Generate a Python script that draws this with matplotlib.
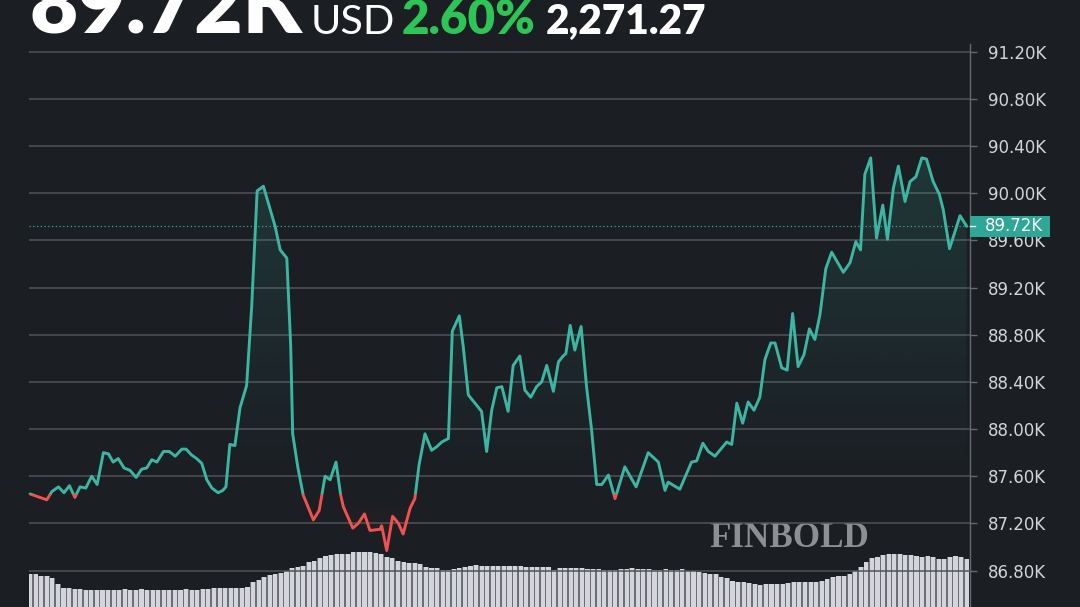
import numpy as np
import matplotlib
matplotlib.use("Agg")
import matplotlib.pyplot as plt
from matplotlib.patches import Rectangle
from matplotlib.path import Path
import matplotlib.transforms as mtransforms

# ---------------- data ----------------
# price vertices: time in hours over the 24h window, price in thousands USD
times = [0.00, 0.43, 0.56, 0.73, 0.87, 1.01, 1.15, 1.28, 1.43, 1.58,
         1.72, 1.88, 2.01, 2.13, 2.26, 2.41, 2.56, 2.72, 2.86, 2.99,
         3.12, 3.25, 3.42, 3.57, 3.72, 3.89, 4.00, 4.14, 4.27, 4.40,
         4.53, 4.66, 4.82, 4.94, 5.02, 5.12, 5.25, 5.38, 5.55, 5.68,
         5.82, 5.98, 6.13, 6.28, 6.41, 6.58, 6.68, 6.73, 6.86, 7.00,
         7.26, 7.41, 7.56, 7.69, 7.84, 7.96, 8.03, 8.27, 8.41, 8.57,
         8.71, 8.97, 9.01, 9.14, 9.29, 9.44, 9.56, 9.74, 9.86, 9.97,
         10.12, 10.29, 10.42, 10.55, 10.72, 10.82, 11.00, 11.10, 11.23, 11.57,
         11.70, 11.83, 11.96, 12.09, 12.25, 12.38, 12.55, 12.68, 12.83, 12.98,
         13.11, 13.24, 13.41, 13.54, 13.66, 13.73, 13.84, 13.96, 14.12, 14.26,
         14.39, 14.52, 14.65, 14.82, 14.99, 15.24, 15.53, 15.84, 16.10, 16.27,
         16.35, 16.65, 16.95, 17.08, 17.24, 17.38, 17.55, 17.85, 17.98, 18.11,
         18.26, 18.40, 18.55, 18.70, 18.83, 18.98, 19.09, 19.26, 19.40, 19.54,
         19.68, 19.83, 19.97, 20.11, 20.24, 20.39, 20.54, 20.84, 21.01, 21.16,
         21.28, 21.39, 21.54, 21.69, 21.85, 21.97, 22.12, 22.25, 22.42, 22.55,
         22.70, 22.85, 22.97, 23.14, 23.30, 23.40, 23.56, 23.83, 24.00]

prices = [87.45, 87.40, 87.47, 87.51, 87.46, 87.52, 87.42, 87.51, 87.50, 87.60,
          87.53, 87.80, 87.79, 87.72, 87.75, 87.67, 87.65, 87.59, 87.66, 87.67,
          87.74, 87.72, 87.81, 87.81, 87.77, 87.83, 87.83, 87.78, 87.75, 87.71,
          87.57, 87.50, 87.46, 87.48, 87.51, 87.87, 87.86, 88.18, 88.37, 89.04,
          90.02, 90.06, 89.89, 89.72, 89.52, 89.45, 88.70, 87.96, 87.68, 87.44,
          87.23, 87.31, 87.60, 87.57, 87.72, 87.44, 87.34, 87.16, 87.20, 87.28,
          87.14, 87.15, 87.18, 86.97, 87.26, 87.20, 87.11, 87.33, 87.41, 87.70,
          87.96, 87.82, 87.85, 87.89, 87.92, 88.83, 88.96, 88.70, 88.29, 88.15,
          87.81, 88.16, 88.35, 88.36, 88.15, 88.54, 88.62, 88.33, 88.27, 88.36,
          88.40, 88.54, 88.32, 88.57, 88.62, 88.64, 88.88, 88.67, 88.87, 88.36,
          87.99, 87.53, 87.53, 87.61, 87.41, 87.68, 87.51, 87.80, 87.72, 87.48,
          87.55, 87.49, 87.72, 87.73, 87.88, 87.81, 87.77, 87.89, 87.87, 88.22,
          88.05, 88.23, 88.16, 88.27, 88.59, 88.73, 88.73, 88.52, 88.50, 88.98,
          88.53, 88.63, 88.85, 88.76, 88.97, 89.36, 89.50, 89.33, 89.41, 89.59,
          89.52, 90.16, 90.30, 89.62, 89.90, 89.61, 90.04, 90.23, 89.93, 90.10,
          90.14, 90.30, 90.29, 90.10, 89.99, 89.86, 89.53, 89.81, 89.72]

# relative traded volume per interval (169 equal intervals over 24h)
volume = [32.7, 32.7, 31.3, 31.3, 28.7, 22.7, 19.3, 18.7, 17.7, 17.7,
          16.7, 16.7, 16.7, 16.7, 16.7, 16.7, 16.7, 17.7, 16.7, 16.7,
          17.7, 16.7, 16.7, 16.7, 16.7, 16.7, 16.7, 16.7, 17.7, 16.7,
          16.7, 17.7, 17.7, 18.7, 18.7, 18.7, 18.7, 18.7, 19.3, 20.3,
          24.7, 27.0, 29.7, 32.0, 33.0, 33.7, 36.0, 39.3, 40.3, 41.3,
          45.3, 46.0, 48.7, 51.0, 52.0, 52.7, 52.7, 52.7, 55.3, 55.3,
          55.3, 55.3, 54.3, 52.7, 50.3, 48.7, 46.3, 45.3, 43.7, 43.7,
          43.0, 40.3, 39.3, 38.7, 37.0, 37.0, 38.0, 38.7, 40.3, 41.3,
          42.0, 41.3, 41.3, 41.3, 41.3, 41.3, 41.3, 41.3, 41.3, 40.3,
          40.3, 40.3, 40.3, 40.3, 37.0, 39.3, 39.3, 39.3, 39.3, 39.3,
          38.0, 38.0, 38.0, 37.0, 37.0, 37.0, 37.7, 37.7, 39.3, 38.0,
          38.0, 38.0, 37.0, 37.0, 38.0, 37.0, 37.0, 37.7, 36.3, 36.3,
          34.7, 33.7, 33.0, 32.7, 30.3, 28.7, 26.0, 25.3, 24.7, 23.7,
          22.7, 22.0, 22.7, 22.7, 22.7, 22.7, 23.7, 24.7, 24.7, 24.7,
          25.3, 25.3, 26.0, 28.0, 30.3, 31.3, 31.3, 32.7, 36.0, 40.3,
          45.3, 48.7, 50.3, 52.0, 52.7, 52.7, 52.7, 52.0, 52.0, 51.0,
          50.3, 51.0, 50.3, 48.0, 48.0, 50.3, 51.0, 49.7, 48.0]

y_ticks = [86.8, 87.2, 87.6, 88.0, 88.4, 88.8, 89.2, 89.6, 90.0, 90.4, 90.8, 91.2]
baseline = 87.449          # opening price of the window
last_price = 89.72
title_price = "89.72K"
title_ccy = "USD"
title_pct = "2.60%"
title_abs = "2,271.27"
watermark = "FINBOLD"

# ---------------- style ----------------
W, H, DPI = 1080, 607, 100
BG = '#1b1e23'
TEAL = '#3cb5a3'
TAG = '#2ea797'
RED = '#ef5350'
GRID = '#505358'
SPINE = '#66696e'
LABEL = '#d3d5da'
GREEN = '#2cc556'

fig = plt.figure(figsize=(W / DPI, H / DPI), dpi=DPI, facecolor=BG)


def fx(px):
    return px / W


def fy(py):
    return 1 - py / H


ax_l, ax_r, ax_t = 29, 970, 44
rect = [fx(ax_l), 0, fx(ax_r) - fx(ax_l), fy(ax_t)]
ax_h_px = H - ax_t

ax_vol = fig.add_axes(rect, facecolor=BG)
ax = fig.add_axes(rect, facecolor='none')

xlim = (-0.026, 24.085)
ylim = (86.491, 91.266)

# ---- volume bars (bottom layer) ----
vol_t = np.linspace(0, 24, len(volume))
bw = 24 / (len(volume) - 1)
ax_vol.bar(vol_t, volume, width=bw, color='#6c6f75', linewidth=0, zorder=1)
ax_vol.bar(vol_t, volume, width=bw * 0.74, color='#d3d5da', linewidth=0, zorder=2)
ax_vol.set_xlim(*xlim)
ax_vol.set_ylim(0, ax_h_px)
ax_vol.axis('off')

# watermark under the grid
wm = ax_vol.text(fx(709), fy(547), watermark, transform=fig.transFigure,
                 family='Liberation Serif', weight='bold', color='#8e8f92',
                 fontsize=30, va='baseline', ha='left', zorder=0)

# ---- price axes ----
ax.set_xlim(*xlim)
ax.set_ylim(*ylim)
ax.set_axisbelow(True)
ax.set_yticks(y_ticks)
ax.set_yticklabels([f"{v:.2f}K" for v in y_ticks])
ax.yaxis.tick_right()
ax.grid(axis='y', color=GRID, lw=1.1)
ax.tick_params(axis='y', length=5, width=1, color=SPINE, pad=8,
               labelsize=12, labelcolor=LABEL)
ax.tick_params(axis='x', bottom=False, labelbottom=False)
for s in ['top', 'left', 'bottom']:
    ax.spines[s].set_visible(False)
ax.spines['right'].set_color(SPINE)
ax.spines['right'].set_linewidth(1)

t_arr = np.asarray(times)
p_arr = np.asarray(prices)

# gradient fills between the line and the baseline
verts = np.column_stack([np.r_[t_arr, t_arr[-1], t_arr[0], t_arr[0]],
                         np.r_[p_arr, baseline, baseline, p_arr[0]]])
clip_path = Path(verts)

n = 256
g = np.linspace(0, 1, n).reshape(-1, 1)
top_img = np.zeros((n, 1, 4))
top_img[..., :3] = matplotlib.colors.to_rgb(TEAL)
top_img[..., 3] = 0.22 * g
im1 = ax.imshow(top_img, extent=[t_arr[0], t_arr[-1], baseline, ylim[1]],
                origin='lower', aspect='auto', interpolation='bilinear', zorder=1)
im1.set_clip_path(clip_path, ax.transData)

bot_img = np.zeros((n, 1, 4))
bot_img[..., :3] = matplotlib.colors.to_rgb(RED)
bot_img[..., 3] = 0.14 * (1 - g)
im2 = ax.imshow(bot_img, extent=[t_arr[0], t_arr[-1], ylim[0], baseline],
                origin='lower', aspect='auto', interpolation='bilinear', zorder=1)
im2.set_clip_path(clip_path, ax.transData)
ax.set_xlim(*xlim)
ax.set_ylim(*ylim)

# line, split at the baseline
up_clip = Rectangle((xlim[0] - 1, baseline), 30, 10, transform=ax.transData)
dn_clip = Rectangle((xlim[0] - 1, baseline - 10), 30, 10, transform=ax.transData)
l1, = ax.plot(times, prices, color=TEAL, lw=2.1, solid_joinstyle='round',
              solid_capstyle='round', zorder=3)
l1.set_clip_path(up_clip)
l2, = ax.plot(times, prices, color=RED, lw=2.1, solid_joinstyle='round',
              solid_capstyle='round', zorder=3)
l2.set_clip_path(dn_clip)

# last price dotted line and tag
ax.axhline(last_price, color=TEAL, lw=0.9, ls=(0, (1, 2)), alpha=0.9, zorder=2)
blend = mtransforms.blended_transform_factory(ax.transAxes, ax.transData)
ax_w_px = ax_r - ax_l
half = 10.5 / (ax_h_px / (ylim[1] - ylim[0]))
tag = Rectangle((1.0, last_price - half), (1050 - ax_r) / ax_w_px, 2 * half,
                transform=blend, facecolor=TAG, edgecolor='none',
                clip_on=False, zorder=6)
ax.add_patch(tag)
ax.plot([1.0, 1.0 + 5 / ax_w_px], [last_price, last_price], transform=blend,
        color='white', lw=1, clip_on=False, zorder=7)
ax.text(1.0 + (985 - ax_r) / ax_w_px, last_price, f"{last_price:.2f}K",
        transform=blend, color='white', fontsize=12, va='center', ha='left',
        clip_on=False, zorder=7)

# ---- title texts ----
renderer = fig.canvas.get_renderer()


def fit_text(target, x_px, base_px, width_px, s, **kw):
    t = target.text(fx(x_px), fy(base_px), s, va='baseline', ha='left',
                    transform=fig.transFigure, **kw)
    bb = t.get_window_extent(renderer)
    t.set_fontsize(t.get_fontsize() * width_px / bb.width)
    return t


fit_text(fig, 30, 33, 273, title_price, family='Lato', weight='heavy',
         color='white', fontsize=60)
fit_text(fig, 311, 34, 84, title_ccy, family='Lato', weight='normal',
         color='white', fontsize=30)
fit_text(fig, 402, 34, 134, title_pct, family='Lato', weight='heavy',
         color=GREEN, fontsize=30)
fit_text(fig, 546, 34, 161, title_abs, family='Lato', weight='heavy',
         color='white', fontsize=30)

bbw = wm.get_window_extent(renderer)
wm.set_fontsize(wm.get_fontsize() * 160 / bbw.width)

fig.savefig('out.png', dpi=DPI, facecolor=BG)
